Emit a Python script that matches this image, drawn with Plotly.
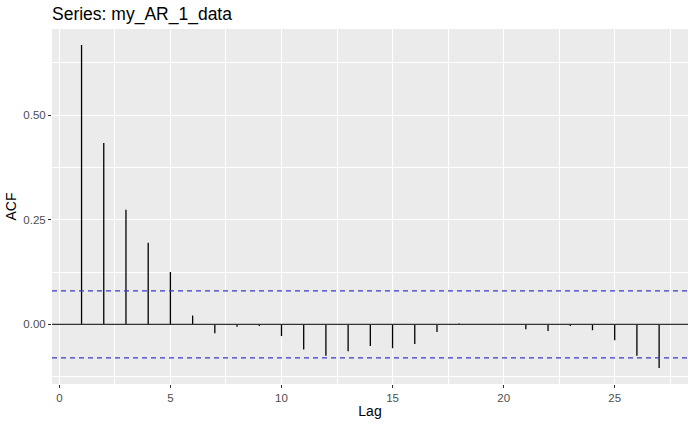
import plotly.graph_objects as go

# ACF of my_AR_1_data
lags = list(range(1, 28))
acf = [0.667, 0.433, 0.274, 0.195, 0.125, 0.021, -0.021, -0.006, -0.004,
       -0.028, -0.060, -0.075, -0.064, -0.052, -0.057, -0.047, -0.018,
       0.002, -0.001, 0.001, -0.012, -0.016, -0.004, -0.014, -0.038,
       -0.075, -0.104]
ci = 0.080  # +/- bound of the dashed lines

x_ticks = [0, 5, 10, 15, 20, 25]
y_ticks = [0.0, 0.25, 0.5]
y_tick_text = ["0.00", "0.25", "0.50"]

# segments from 0 to acf value, broken with None
seg_x, seg_y = [], []
for lag, val in zip(lags, acf):
    seg_x += [lag, lag, None]
    seg_y += [0, val, None]

fig = go.Figure()
fig.add_trace(go.Scatter(x=seg_x, y=seg_y, mode="lines",
                         line=dict(color="black", width=1.3),
                         hoverinfo="skip", showlegend=False))

fig.add_hline(y=0, line=dict(color="#333333", width=1.3), layer="above")
for b in (ci, -ci):
    fig.add_hline(y=b, line=dict(color="#3a3acc", width=1.1, dash="5px,4px"))

axis_common = dict(
    showgrid=True, gridcolor="white", gridwidth=1.1,
    zeroline=False, showline=False, automargin=False,
    ticks="outside", ticklen=3, tickcolor="#333333", tickwidth=1,
    tickfont=dict(family="Liberation Sans, Arial", size=11.5, color="#4d4d4d"),
)

fig.update_layout(
    width=690, height=428,
    margin=dict(l=52, r=2, t=29, b=44),
    paper_bgcolor="white", plot_bgcolor="#ebebeb",
    font=dict(family="Liberation Sans, Arial", color="black"),
    title=dict(text="Series: my_AR_1_data", x=0, xref="paper", xanchor="left",
               y=1 - 14 / 428, yref="container", yanchor="middle",
               font=dict(size=17.5, color="black")),
    xaxis=dict(axis_common, range=[-0.33, 28.3], tickvals=x_ticks,
               title=dict(text="Lag", font=dict(size=14), standoff=3)),
    yaxis=dict(axis_common, range=[-0.1425, 0.7055], tickvals=y_ticks,
               ticktext=y_tick_text,
               title=dict(text="ACF", font=dict(size=14), standoff=3)),
)
fig.update_xaxes(minor=dict(tickvals=[2.5, 7.5, 12.5, 17.5, 22.5, 27.5], ticks="",
                            showgrid=True, gridcolor="white", gridwidth=0.5))
fig.update_yaxes(minor=dict(tickvals=[-0.125, 0.125, 0.375, 0.625], ticks="",
                            showgrid=True, gridcolor="white", gridwidth=0.5))

# drop the default 8px page margin so the figure sits at the window corner
fig.write_html("out.html", config={"displayModeBar": False},
               post_script="document.body.style.margin='0';")
